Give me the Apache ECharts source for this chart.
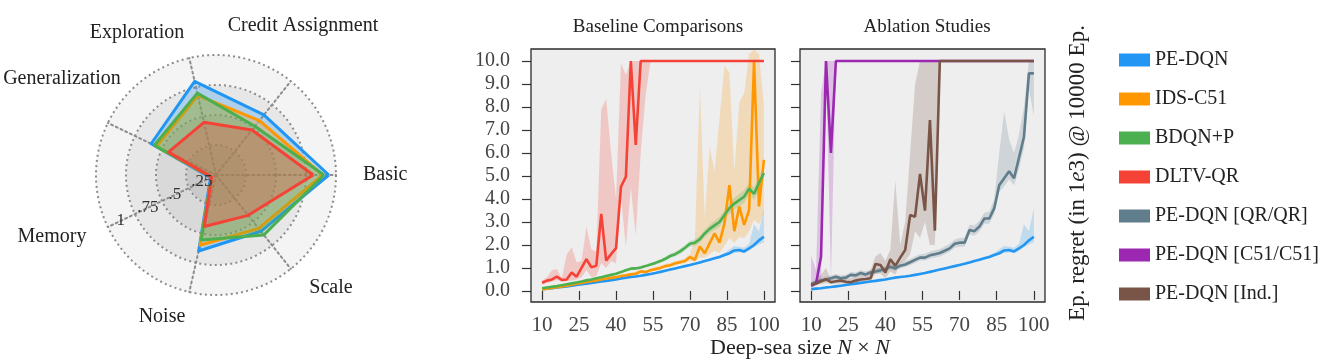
<!DOCTYPE html>
<html>
<head>
<meta charset="utf-8">
<script src="https://cdn.jsdelivr.net/npm/echarts/dist/echarts.min.js"></script>
<style>
  html, body { margin: 0; padding: 0; background: #fff; }
  #main { width: 1322px; height: 359px; }
</style>
</head>
<body>
<div id="main"></div>
<script>
// radar: capability scores (0..1)
const radarAxes = ['Basic', 'Credit Assignment', 'Exploration', 'Generalization', 'Memory', 'Noise', 'Scale'];
const radarPeDqn = [0.94, 0.64, 0.80, 0.60, 0.05, 0.65, 0.60];
const radarIds = [0.89, 0.58, 0.68, 0.55, 0.04, 0.60, 0.57];
const radarBdqn = [0.90, 0.52, 0.70, 0.57, 0.04, 0.555, 0.64];
const radarDltv = [0.81, 0.48, 0.45, 0.44, 0.04, 0.44, 0.43];
const ringValues = [0.25, 0.5, 0.75, 1];
const ringLabels = ['.25', '.5', '.75', '1'];

// deep-sea sizes and tick labels
const sizes = [10, 12, 14, 16, 18, 20, 22, 24, 26, 28, 30, 32, 34, 36, 38, 40, 42, 44, 46, 48, 50, 52, 54, 56, 58,
  60, 62, 64, 66, 68, 70, 72, 74, 76, 78, 80, 82, 84, 86, 88, 90, 92, 94, 96, 98, 100];
const xTicks = [10, 25, 40, 55, 70, 85, 100];
const yTicks = [0, 1, 2, 3, 4, 5, 6, 7, 8, 9, 10];

// PE-DQN (both panels)
const peMean = [0.08, 0.10, 0.12, 0.15, 0.17, 0.20, 0.23, 0.26, 0.29, 0.32, 0.35, 0.38, 0.41, 0.44, 0.47, 0.50, 0.54, 0.58, 0.61, 0.63,
  0.66, 0.70, 0.74, 0.78, 0.83, 0.88, 0.93, 0.98, 1.03, 1.08, 1.13, 1.18, 1.24, 1.30, 1.36, 1.42, 1.48, 1.56, 1.64, 1.76, 1.78, 1.72, 1.85, 2.00, 2.20, 2.36];
const peHigh = [0.12, 0.14, 0.16, 0.19, 0.21, 0.24, 0.27, 0.30, 0.33, 0.36, 0.39, 0.42, 0.45, 0.48, 0.51, 0.54, 0.58, 0.62, 0.65, 0.67,
  0.70, 0.74, 0.78, 0.82, 0.87, 0.92, 0.97, 1.02, 1.07, 1.12, 1.17, 1.22, 1.28, 1.34, 1.41, 1.48, 1.56, 1.66, 1.80, 1.95, 1.92, 1.88, 2.05, 2.90, 2.60, 3.60];
const peLow = [0.05, 0.07, 0.09, 0.12, 0.14, 0.17, 0.20, 0.23, 0.26, 0.29, 0.32, 0.35, 0.38, 0.41, 0.44, 0.47, 0.51, 0.55, 0.58, 0.60,
  0.63, 0.67, 0.71, 0.75, 0.80, 0.85, 0.90, 0.95, 1.00, 1.05, 1.10, 1.15, 1.21, 1.27, 1.33, 1.38, 1.44, 1.50, 1.56, 1.65, 1.68, 1.64, 1.76, 1.90, 2.02, 2.12];

// IDS-C51
const idsMean = [0.07, 0.10, 0.13, 0.16, 0.19, 0.23, 0.27, 0.31, 0.35, 0.39, 0.42, 0.46, 0.50, 0.54, 0.57, 0.60, 0.65, 0.68, 0.72, 0.75,
  0.85, 0.82, 0.90, 0.95, 1.00, 1.08, 1.12, 1.20, 1.25, 1.30, 1.48, 1.35, 1.93, 1.64, 2.08, 2.50, 2.10, 2.94, 4.60, 2.60, 3.67, 2.87, 3.52, 10.0, 3.67, 5.70];
const idsHigh = [0.10, 0.13, 0.16, 0.19, 0.22, 0.26, 0.30, 0.34, 0.38, 0.42, 0.46, 0.50, 0.54, 0.58, 0.62, 0.65, 0.70, 0.74, 0.78, 0.82,
  0.92, 0.90, 0.98, 1.04, 1.10, 1.18, 1.22, 1.30, 1.36, 1.42, 1.60, 2.20, 8.90, 3.20, 6.30, 5.20, 7.50, 9.80, 9.50, 5.20, 8.20, 8.60, 10.3, 10.5, 10.3, 8.10];
const idsLow = [0.05, 0.07, 0.10, 0.13, 0.16, 0.20, 0.24, 0.28, 0.32, 0.36, 0.39, 0.43, 0.47, 0.51, 0.54, 0.57, 0.61, 0.64, 0.68, 0.71,
  0.80, 0.78, 0.85, 0.90, 0.95, 1.02, 1.06, 1.12, 1.18, 1.22, 1.30, 1.28, 1.45, 1.45, 1.60, 1.75, 1.65, 1.95, 2.30, 2.10, 2.35, 2.30, 2.60, 3.10, 2.90, 3.40];

// BDQN+P
const bdqnMean = [0.12, 0.15, 0.18, 0.21, 0.25, 0.29, 0.33, 0.37, 0.41, 0.46, 0.50, 0.55, 0.60, 0.65, 0.70, 0.75, 0.82, 0.90, 0.97, 0.98,
  1.02, 1.08, 1.15, 1.22, 1.30, 1.40, 1.52, 1.60, 1.72, 1.88, 2.05, 2.10, 2.25, 2.50, 2.70, 2.85, 3.00, 3.30, 3.60, 3.80, 3.95, 4.10, 4.45, 4.22, 4.70, 5.12];
const bdqnHigh = [0.15, 0.18, 0.21, 0.24, 0.28, 0.32, 0.36, 0.40, 0.45, 0.50, 0.54, 0.59, 0.64, 0.69, 0.74, 0.80, 0.87, 0.95, 1.02, 1.04,
  1.08, 1.14, 1.22, 1.30, 1.38, 1.49, 1.62, 1.71, 1.84, 2.00, 2.18, 2.24, 2.40, 2.66, 2.88, 3.05, 3.22, 3.52, 3.84, 4.05, 4.22, 4.38, 4.70, 4.50, 5.00, 5.40];
const bdqnLow = [0.09, 0.12, 0.15, 0.18, 0.22, 0.26, 0.30, 0.34, 0.37, 0.42, 0.46, 0.51, 0.56, 0.61, 0.66, 0.70, 0.77, 0.85, 0.92, 0.92,
  0.96, 1.02, 1.08, 1.14, 1.22, 1.31, 1.42, 1.50, 1.60, 1.76, 1.92, 1.96, 2.10, 2.34, 2.52, 2.65, 2.78, 3.08, 3.36, 3.55, 3.68, 3.82, 4.20, 3.95, 4.40, 4.85];

// DLTV-QR
const dltvMean = [0.36, 0.45, 0.50, 0.62, 0.48, 0.50, 0.80, 0.62, 1.00, 1.38, 1.03, 1.10, 3.35, 1.32, 1.60, 1.86, 4.53, 4.97, 10, 6.35,
  10, 10, 10, 10, 10, 10, 10, 10, 10, 10, 10, 10, 10, 10, 10, 10, 10, 10, 10, 10, 10, 10, 10, 10, 10, 10];
const dltvHigh = [0.45, 0.60, 0.90, 0.95, 0.55, 1.60, 1.90, 1.25, 1.30, 2.80, 1.80, 1.70, 7.90, 8.35, 6.00, 4.00, 9.90, 9.40, 10, 10,
  10, 10, 10, 10, 10, 10, 10, 10, 10, 10, 10, 10, 10, 10, 10, 10, 10, 10, 10, 10, 10, 10, 10, 10, 10, 10];
const dltvLow = [0.28, 0.35, 0.40, 0.48, 0.40, 0.42, 0.45, 0.50, 0.60, 0.90, 0.60, 0.65, 1.20, 1.00, 1.30, 1.20, 4.10, 1.90, 4.50, 2.40,
  6.00, 8.50, 10, 10, 10, 10, 10, 10, 10, 10, 10, 10, 10, 10, 10, 10, 10, 10, 10, 10, 10, 10, 10, 10, 10, 10];

// PE-DQN [QR/QR]
const qrMean = [0.30, 0.38, 0.45, 0.50, 0.55, 0.62, 0.55, 0.58, 0.70, 0.68, 0.78, 0.72, 0.80, 0.85, 0.90, 0.95, 1.05, 0.98, 1.10, 1.15,
  1.25, 1.35, 1.45, 1.45, 1.55, 1.60, 1.65, 1.75, 1.85, 2.05, 2.10, 2.10, 2.65, 2.60, 2.80, 3.15, 3.15, 3.60, 4.60, 4.90, 5.20, 4.90, 5.80, 6.70, 9.46, 9.46];
const qrHigh = [0.40, 0.48, 0.56, 0.62, 0.67, 0.74, 0.67, 0.70, 0.82, 0.80, 0.90, 0.85, 0.93, 0.98, 1.03, 1.08, 1.18, 1.12, 1.24, 1.29,
  1.39, 1.50, 1.60, 1.62, 1.72, 1.77, 1.82, 1.93, 2.04, 2.24, 2.30, 2.32, 2.88, 2.85, 3.05, 3.40, 3.45, 4.00, 6.00, 7.80, 6.60, 6.00, 6.80, 8.00, 10.0, 10.0];
const qrLow = [0.22, 0.30, 0.36, 0.40, 0.45, 0.52, 0.46, 0.48, 0.60, 0.58, 0.68, 0.62, 0.70, 0.74, 0.79, 0.84, 0.94, 0.88, 0.98, 1.03,
  1.12, 1.22, 1.32, 1.32, 1.40, 1.45, 1.50, 1.60, 1.70, 1.88, 1.92, 1.92, 2.45, 2.40, 2.58, 2.92, 2.92, 3.35, 4.30, 4.55, 4.85, 4.60, 5.30, 6.20, 8.80, 7.60];

// PE-DQN [C51/C51]
const c51Mean = [0.22, 0.33, 1.50, 10, 6.00, 10, 10, 10, 10, 10, 10, 10, 10, 10, 10, 10, 10, 10, 10, 10,
  10, 10, 10, 10, 10, 10, 10, 10, 10, 10, 10, 10, 10, 10, 10, 10, 10, 10, 10, 10, 10, 10, 10, 10, 10, 10];
const c51High = [1.55, 0.90, 8.60, 10, 10, 10, 10, 10, 10, 10, 10, 10, 10, 10, 10, 10, 10, 10, 10, 10,
  10, 10, 10, 10, 10, 10, 10, 10, 10, 10, 10, 10, 10, 10, 10, 10, 10, 10, 10, 10, 10, 10, 10, 10, 10, 10];
const c51Low = [0.15, 0.25, 0.40, 10, 0.50, 10, 10, 10, 10, 10, 10, 10, 10, 10, 10, 10, 10, 10, 10, 10,
  10, 10, 10, 10, 10, 10, 10, 10, 10, 10, 10, 10, 10, 10, 10, 10, 10, 10, 10, 10, 10, 10, 10, 10, 10, 10];

// PE-DQN [Ind.]
const indMean = [0.26, 0.32, 0.42, 0.51, 0.38, 0.42, 0.45, 0.40, 0.38, 0.45, 0.50, 0.52, 0.55, 1.17, 1.13, 0.80, 1.38, 1.09, 1.45, 1.78,
  3.30, 3.23, 5.09, 3.49, 7.43, 2.62, 10, 10, 10, 10, 10, 10, 10, 10, 10, 10, 10, 10, 10, 10, 10, 10, 10, 10, 10, 10];
const indHigh = [0.30, 0.50, 0.70, 1.00, 0.50, 0.55, 0.60, 0.55, 0.55, 0.65, 0.70, 0.75, 0.90, 1.50, 1.65, 1.30, 1.80, 4.80, 2.00, 3.00,
  6.00, 9.00, 10, 10, 10, 10, 10, 10, 10, 10, 10, 10, 10, 10, 10, 10, 10, 10, 10, 10, 10, 10, 10, 10, 10, 10];
const indLow = [0.20, 0.25, 0.30, 0.35, 0.30, 0.30, 0.35, 0.30, 0.30, 0.35, 0.40, 0.40, 0.40, 0.75, 0.75, 0.55, 0.85, 0.70, 1.20, 1.30,
  1.60, 2.60, 2.30, 3.00, 2.00, 2.00, 10, 10, 10, 10, 10, 10, 10, 10, 10, 10, 10, 10, 10, 10, 10, 10, 10, 10, 10, 10];

const names = ['PE-DQN', 'IDS-C51', 'BDQN+P', 'DLTV-QR', 'PE-DQN [QR/QR]', 'PE-DQN [C51/C51]', 'PE-DQN [Ind.]'];
const colors = {
  'PE-DQN': '#2196f3',
  'IDS-C51': '#ff9800',
  'BDQN+P': '#4caf50',
  'DLTV-QR': '#f44336',
  'PE-DQN [QR/QR]': '#607d8b',
  'PE-DQN [C51/C51]': '#9c27b0',
  'PE-DQN [Ind.]': '#795548',
};

const FONT = 'Liberation Serif';
const TEXT = '#222';

// shaded band drawn as one polygon through the axis scales
function band(name, low, high, panel) {
  const color = colors[name];
  return {
    name: name + '-band-' + panel,
    type: 'custom',
    xAxisIndex: panel, yAxisIndex: panel,
    silent: true, clip: true, z: 1,
    data: sizes.map((x, i) => [x, low[i], high[i]]),
    encode: { x: 0, y: [1, 2] },
    renderItem: (params, api) => {
      if (params.dataIndex !== 0) return null;
      const top = sizes.map((x, i) => api.coord([x, high[i]]));
      const bottom = sizes.map((x, i) => api.coord([x, low[i]])).reverse();
      return {
        type: 'polygon',
        shape: { points: top.concat(bottom) },
        style: { fill: color, opacity: 0.22 },
      };
    },
  };
}

function line(name, mean, panel) {
  const color = colors[name];
  return {
    name, type: 'line', xAxisIndex: panel, yAxisIndex: panel,
    data: sizes.map((x, i) => [x, mean[i]]), symbol: 'none', silent: true,
    lineStyle: { color, width: 2.6 }, itemStyle: { color }, z: 3,
  };
}

function radarItem(name, value) {
  const color = colors[name];
  return {
    name, value, symbol: 'none',
    lineStyle: { color, width: 3 },
    itemStyle: { color },
    areaStyle: { color, opacity: 0.28 },
  };
}

const dotted = { type: [2, 3.2], color: '#8c8c8c', width: 2 };

const xAxisBase = {
  type: 'value', min: 5.5, max: 104.5,
  axisLine: { show: false },
  splitLine: { show: false },
  axisTick: { customValues: xTicks, length: 9, lineStyle: { color: '#333', width: 1.2 } },
  axisLabel: { customValues: xTicks, fontSize: 21, fontFamily: FONT, color: '#444', margin: 13 },
};
const yAxisBase = {
  type: 'value', min: -0.48, max: 10.52,
  axisLine: { show: false },
  splitLine: { show: false },
  axisTick: { customValues: yTicks, length: 9, lineStyle: { color: '#333', width: 1.2 } },
  axisLabel: {
    customValues: yTicks, fontSize: 20, fontFamily: FONT, color: '#444', margin: 21,
    formatter: (v) => v.toFixed(1),
  },
};
const gridBase = { show: true, backgroundColor: '#eeeeee', borderColor: '#2b2b2b', borderWidth: 1.3, top: 49, height: 253 };

// radar label placement (text centres)
const radarNameLayout = [
  { x: 363, y: 175, align: 'left' },
  { x: 303, y: 26, align: 'center' },
  { x: 137, y: 33, align: 'center' },
  { x: 62, y: 79, align: 'center' },
  { x: 52, y: 237, align: 'center' },
  { x: 162, y: 317, align: 'center' },
  { x: 331, y: 288, align: 'center' },
];

const myChart = echarts.init(document.getElementById('main'), null, { renderer: 'canvas' });

const option = {
  backgroundColor: '#fff',
  animation: false,
  textStyle: { fontFamily: FONT },
  title: [
    { text: 'Baseline Comparisons', left: 653, top: 13, textAlign: 'center',
      textStyle: { fontSize: 19, fontWeight: 'normal', fontFamily: FONT, color: TEXT } },
    { text: 'Ablation Studies', left: 922, top: 13, textAlign: 'center',
      textStyle: { fontSize: 19, fontWeight: 'normal', fontFamily: FONT, color: TEXT } },
  ],
  legend: {
    data: names,
    orient: 'vertical',
    left: 1114, top: 45,
    itemWidth: 31, itemHeight: 13, itemGap: 19,
    icon: 'rect',
    selectedMode: false,
    textStyle: { fontSize: 20, fontFamily: FONT, color: TEXT, lineHeight: 20 },
  },
  radar: {
    center: [216, 175],
    radius: 120,
    startAngle: 0,
    shape: 'circle',
    splitNumber: 4,
    indicator: radarAxes.map((n) => ({ name: n, min: 0, max: 1 })),
    axisName: { show: false },
    axisLine: { lineStyle: dotted },
    splitLine: { lineStyle: dotted },
    splitArea: { areaStyle: { color: ['#c9c9c9', '#d9d9d9', '#e7e7e7', '#f4f4f4'] } },
  },
  polar: { center: [216, 175], radius: 120 },
  angleAxis: { type: 'value', min: 0, max: 360, startAngle: 205.71, show: false },
  radiusAxis: {
    type: 'value', min: 0.12, max: 1.12,
    axisLine: { show: false }, axisTick: { show: false }, splitLine: { show: false },
    axisLabel: {
      customValues: ringValues, margin: 0, align: 'center', verticalAlign: 'middle',
      fontSize: 17, fontFamily: FONT, color: '#333',
      formatter: (v) => ringLabels[ringValues.indexOf(v)] || '',
    },
    z: 5,
  },
  grid: [
    Object.assign({ left: 531, width: 244 }, gridBase),
    Object.assign({ left: 800, width: 245 }, gridBase),
  ],
  xAxis: [
    Object.assign({ gridIndex: 0 }, xAxisBase),
    Object.assign({ gridIndex: 1 }, xAxisBase),
  ],
  yAxis: [
    Object.assign({ gridIndex: 0 }, yAxisBase),
    Object.assign({ gridIndex: 1 }, yAxisBase, { axisLabel: { show: false } }),
  ],
  graphic: [
    ...radarAxes.map((n, i) => ({
      type: 'text', x: radarNameLayout[i].x, y: radarNameLayout[i].y,
      style: { text: n, fontSize: 20, fontFamily: FONT, fill: TEXT,
        align: radarNameLayout[i].align, verticalAlign: 'middle' },
    })),
    {
      type: 'text', x: 800, y: 348,
      style: {
        text: 'Deep-sea size {i|N} × {i|N}', fontSize: 22, fontFamily: FONT, fill: TEXT,
        align: 'center', verticalAlign: 'middle',
        rich: { i: { fontStyle: 'italic', fontSize: 22, fontFamily: FONT, fill: TEXT } },
      },
    },
    {
      type: 'text', x: 1078, y: 173, rotation: Math.PI / 2,
      style: {
        text: 'Ep. regret (in 1{i|e}3) @ 10000 Ep.', fontSize: 23, fontFamily: FONT, fill: TEXT,
        align: 'center', verticalAlign: 'middle',
        rich: { i: { fontStyle: 'italic', fontSize: 23, fontFamily: FONT, fill: TEXT } },
      },
    },
  ],
  series: [
    {
      type: 'radar',
      silent: true,
      z: 3,
      data: [
        radarItem('PE-DQN', radarPeDqn),
        radarItem('IDS-C51', radarIds),
        radarItem('BDQN+P', radarBdqn),
        radarItem('DLTV-QR', radarDltv),
      ],
    },
    band('PE-DQN', peLow, peHigh, 0),
    band('IDS-C51', idsLow, idsHigh, 0),
    band('BDQN+P', bdqnLow, bdqnHigh, 0),
    band('DLTV-QR', dltvLow, dltvHigh, 0),
    line('PE-DQN', peMean, 0),
    line('IDS-C51', idsMean, 0),
    line('BDQN+P', bdqnMean, 0),
    line('DLTV-QR', dltvMean, 0),
    band('PE-DQN', peLow, peHigh, 1),
    band('PE-DQN [QR/QR]', qrLow, qrHigh, 1),
    band('PE-DQN [C51/C51]', c51Low, c51High, 1),
    band('PE-DQN [Ind.]', indLow, indHigh, 1),
    line('PE-DQN', peMean, 1),
    line('PE-DQN [QR/QR]', qrMean, 1),
    line('PE-DQN [C51/C51]', c51Mean, 1),
    line('PE-DQN [Ind.]', indMean, 1),
  ],
};

myChart.setOption(option);
</script>
</body>
</html>
